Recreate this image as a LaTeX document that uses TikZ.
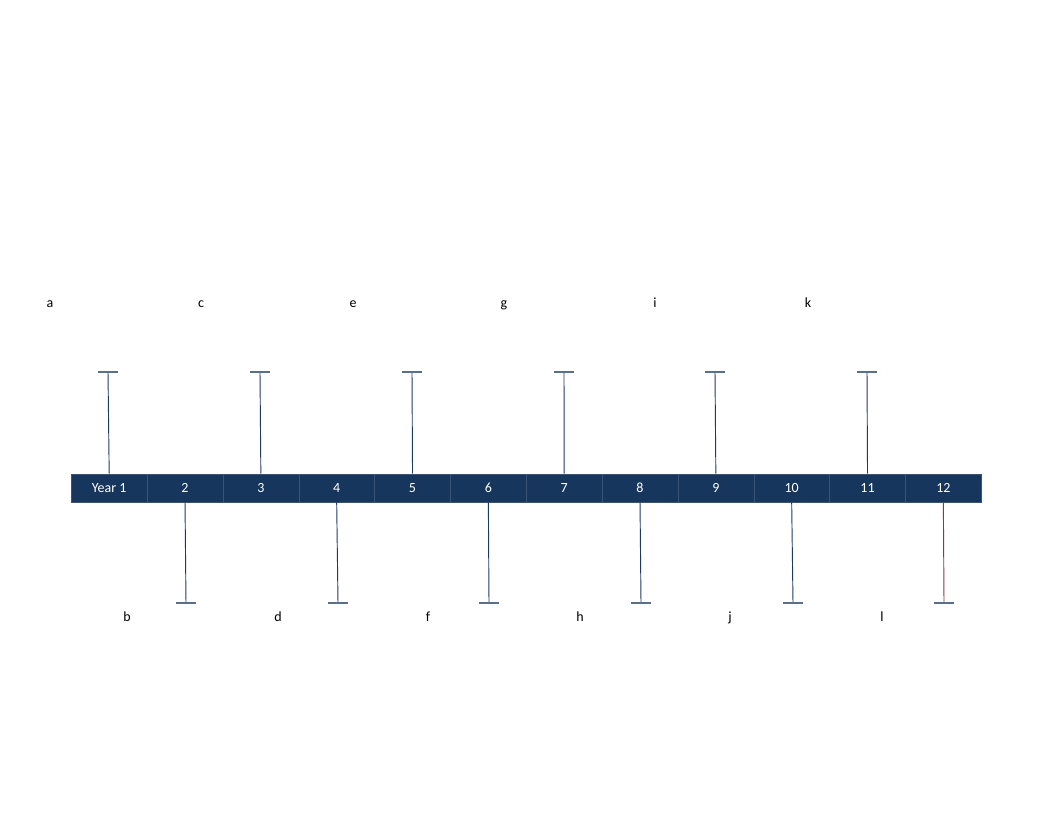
\documentclass[tikz,border=0pt]{standalone}
\usepackage{fontspec}
\setmainfont{Carlito}
\definecolor{navy}{HTML}{17365D}
\definecolor{segline}{HTML}{3A5478}
\definecolor{stem}{HTML}{1F3864}
\definecolor{capc}{HTML}{5A6F8C}
\definecolor{redstem}{HTML}{8B3A3A}
\begin{document}
\begin{tikzpicture}[x=0.75pt,y=-0.75pt,
  seg/.style={fill=navy,draw=segline,line width=0.4pt,minimum width=56.875pt,minimum height=21pt,inner sep=0pt,text=white,font=\fontsize{10.5}{12}\selectfont,anchor=west},
  lab/.style={font=\fontsize{10.5}{12}\selectfont,inner sep=0pt,anchor=base},
  stemline/.style={draw=stem,line width=0.7pt},
  capline/.style={draw=capc,line width=0.9pt}]
\useasboundingbox (0,0) rectangle (1056,816);
\foreach \i/\t in {1/Year 1,2/2,3/3,4/4,5/5,6/6,7/7,8/8,9/9,10/10,11/11,12/12}{
  \node[seg] (s\i) at ({71+(\i-1)*75.833},488) {\t};
}
% up stems
\foreach \i/\x in {1/108,3/260,5/412,7/564,9/715,11/867}{
  \coordinate (t\i) at (\x,372);
  \draw[stemline] (s\i.north) -- (t\i);
  \draw[capline] ([xshift=-7.2pt]t\i) -- ([xshift=7.2pt]t\i);
}
% down stems
\foreach \i/\x in {2/186,4/338,6/489,8/641,10/793}{
  \coordinate (t\i) at (\x,603);
  \draw[stemline] (s\i.south) -- (t\i);
  \draw[capline] ([xshift=-7.2pt]t\i) -- ([xshift=7.2pt]t\i);
}
\coordinate (t12) at (944,603);
\draw[draw=redstem,line width=0.7pt] (s12.south) -- (t12);
\draw[capline] ([xshift=-7.2pt]t12) -- ([xshift=7.2pt]t12);
% labels
\foreach \n/\x in {a/50,c/201,e/353,g/504,i/655,k/808}{
  \node[lab] (l\n) at (\x,307.5) {\n};
}
\foreach \n/\x in {b/127,d/278,f/428,h/580,j/730,l/882}{
  \node[lab] (l\n) at (\x,621.5) {\n};
}
\end{tikzpicture}
\end{document}
